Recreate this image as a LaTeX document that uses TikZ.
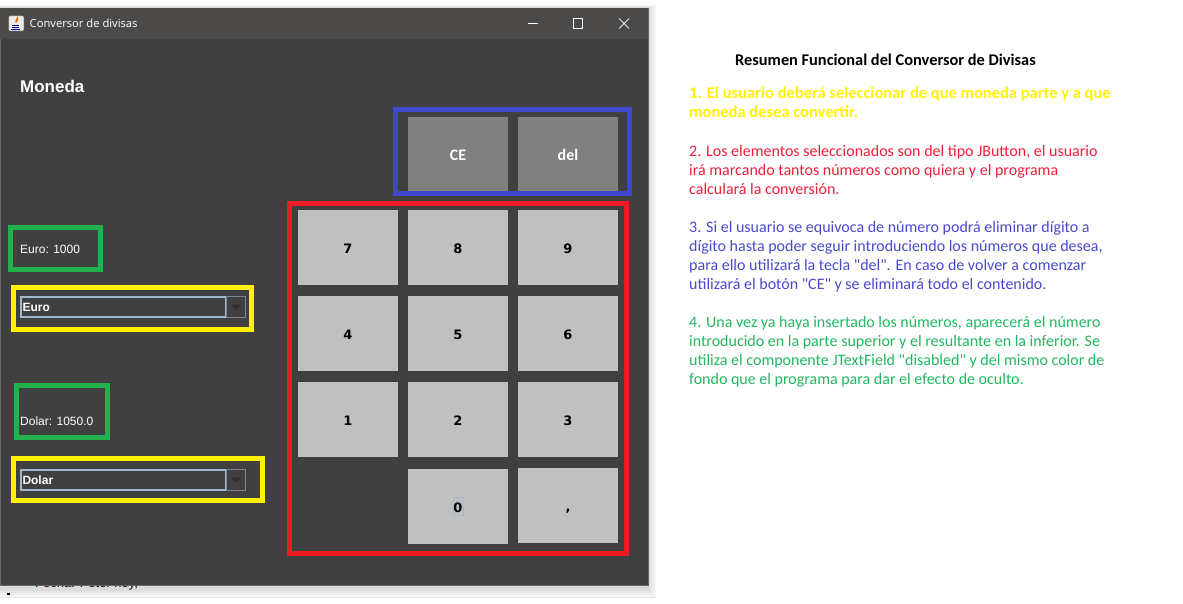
\documentclass[tikz,border=0pt]{standalone}
\usepackage{fontspec}
\setmainfont[Ligatures=TeXOff]{Carlito}
\newfontfamily\titlefont{Open Sans}
\newfontfamily\labelfont{Liberation Sans}
\newfontfamily\keyfont{DejaVu Sans}
\usetikzlibrary{positioning}
\definecolor{panelgrey}{HTML}{404040}
\definecolor{bargrey}{HTML}{4B4A48}
\definecolor{keygrey}{HTML}{C0C0C0}
\definecolor{topkeygrey}{HTML}{808080}
\definecolor{fieldblue}{HTML}{A3B8CC}
\definecolor{arrowgrey}{HTML}{2E2E2E}
\definecolor{markgreen}{HTML}{22B14C}
\definecolor{markyellow}{HTML}{FFF200}
\definecolor{markred}{HTML}{ED1C24}
\definecolor{markblue}{HTML}{3F48CC}
\definecolor{notered}{HTML}{F0203A}
\definecolor{noteblue}{HTML}{4A4AD0}
\definecolor{notegreen}{HTML}{22B860}

\begin{document}
\begin{tikzpicture}[
    x=1pt, y=-1pt,
    numkey/.style={rectangle, fill=keygrey, inner sep=0pt, outer sep=0pt, minimum width=100pt, minimum height=75pt, text height=11.5pt, text depth=0pt, font=\keyfont\bfseries\fontsize{13}{13}\selectfont, text=black},
    topkey/.style={rectangle, fill=topkeygrey, inner sep=0pt, outer sep=0pt, minimum width=100pt, minimum height=74pt, text height=12.5pt, text depth=0pt, font=\bfseries\fontsize{16}{16}\selectfont, text=white},
    markbox/.style={rectangle, draw, line width=5pt, inner sep=0pt, outer sep=0pt, anchor=north west},
    combofield/.style={rectangle, draw=fieldblue, line width=1.2pt, inner xsep=1.5pt, inner ysep=0pt, outer sep=0pt, text width=202pt, align=left, minimum height=20pt, anchor=north west, text=white, font=\labelfont\bfseries\fontsize{12}{12}\selectfont},
    combobtn/.style={rectangle, draw=fieldblue!60!panelgrey, line width=.8pt, inner sep=0pt, outer sep=0pt, minimum width=19pt, minimum height=21pt, anchor=west},
    valuelabel/.style={anchor=west, inner sep=0pt, text=white, font=\labelfont\fontsize{12}{12}\selectfont},
    noteblock/.style={anchor=north west, inner sep=0pt, align=left, font=\fontsize{16}{19}\selectfont}
]
\useasboundingbox (0,0) rectangle (1183,604);
\fill[white] (0,0) rectangle (1183,604);

% Window shadow
\foreach \pad/\tone in {0/4, 2/7, 4/10, 6/14} {
   \fill[black!\tone] (-4,5+\pad*.4) rectangle (656-\pad,597-\pad);
}
\draw[black!10, line width=.6pt] (0,597) -- (656,597);

% Text left behind the window
\node[anchor=base west, inner sep=0pt, text=black!80!red, font=\labelfont\fontsize{13}{13}\selectfont] (behind) at (35,587.5) {Fecha: Peter hoy,};
\fill[black] (7,592.5) rectangle (10,594.5);

% Window
\node[rectangle, fill=panelgrey, draw=black!60, line width=.6pt, inner sep=0pt, outer sep=0pt, anchor=north west, minimum width=648pt, minimum height=577pt] (window) at (0,8) {};
\node[rectangle, fill=bargrey, inner sep=0pt, outer sep=0pt, anchor=north west, minimum width=648pt, minimum height=31pt] (titlebar) at (0,8) {};
\node[rectangle, rounded corners=1pt, fill=black!8, draw=black!45, line width=.5pt, inner sep=0pt, minimum size=15pt, anchor=west] (appicon) at (8.5,23.5) {};
\fill[orange!90!black] (appicon.center) ++(0.5,-1) .. controls ++(3,-2) and ++(-1,-3) .. ++(1,-6) .. controls ++(-2,2) and ++(-3,2) .. ++(-1,6);
\draw[blue!50!black, line width=.8pt] (appicon.center) ++(-4,2) -- ++(7,0) ++(-7,2) -- ++(7,0) ++(-8,2) -- ++(9,0);
\node[anchor=west, inner sep=0pt, text=white, font=\titlefont\fontsize{11.2}{12}\selectfont] (wintitle) at (29.5,23.5) {Conversor de divisas};
\coordinate (minbtn) at (533,23.5);
\coordinate (maxbtn) at (578,23.5);
\coordinate (closebtn) at (624,23.5);
\draw[white, line width=.8pt] (minbtn) ++(-5,0) -- ++(10,0);
\draw[white, line width=.9pt] (maxbtn) ++(-4.7,-4.7) rectangle ++(9.4,9.4);
\draw[white, line width=.7pt] (closebtn) ++(-5,-5) -- ++(10,10) ++(-10,0) -- ++(10,-10);
\node[anchor=west, inner sep=0pt, text=white, font=\labelfont\bfseries\fontsize{17}{17}\selectfont] (moneda) at (20,86) {Moneda};

% Top keys
\node[topkey, anchor=north west] (keyce) at (408,117) {CE};
\node[topkey, right=10pt of keyce] (keydel) {del};

% Number keys
\node[numkey, anchor=north west] (key7) at (298,210) {7};
\node[numkey, right=10pt of key7] (key8) {8};
\node[numkey, right=10pt of key8] (key9) {9};
\node[numkey, below=11pt of key7] (key4) {4};
\node[numkey, right=10pt of key4] (key5) {5};
\node[numkey, right=10pt of key5] (key6) {6};
\node[numkey, below=11pt of key4] (key1) {1};
\node[numkey, right=10pt of key1] (key2) {2};
\node[numkey, right=10pt of key2] (key3) {3};
\node[numkey, below=12pt of key2] (key0) {0};
\node[numkey, below=11pt of key3] (keycomma) {,};
\draw[fieldblue, line width=.5pt] (key0.center) ++(-5,-9) rectangle ++(10,18);

% Labels and combos
\node[valuelabel] (eurolabel) at (20,249) {Euro: 1000};
\node[valuelabel] (dolarlabel) at (20,421) {Dolar: 1050.0};
\foreach \name/\txt/\ypos in {euro/Euro/297, dolar/Dolar/470} {
   \node[combofield] (\name field) at (21,\ypos) {\txt};
   \node[combobtn] (\name btn) at (\name field.east) {};
   \fill[arrowgrey] (\name btn.center) ++(-5,-2.5) -- ++(10,0) -- ++(-5,5) -- cycle;
}

% Marks
\node[markbox, draw=markblue, minimum width=234pt, minimum height=83.5pt] (markkeys) at (395.5,109.8) {};
\node[markbox, draw=markred, minimum width=337pt, minimum height=350pt] (marknums) at (289.5,203.5) {};
\node[markbox, draw=markgreen, minimum width=90pt, minimum height=42pt] (markeuro) at (10.5,227.5) {};
\node[markbox, draw=markgreen, minimum width=91pt, minimum height=52pt] (markdolar) at (16.5,385.5) {};
\node[markbox, draw=markyellow, minimum width=238pt, minimum height=42pt] (markfrom) at (13.5,287.5) {};
\node[markbox, draw=markyellow, minimum width=249pt, minimum height=42pt] (markto) at (13.5,458.5) {};

% Summary text
\node[anchor=west, inner sep=0pt, font=\bfseries\fontsize{16.35}{19}\selectfont] (summary) at (735,60) {Resumen Funcional del Conversor de Divisas};
\node[noteblock, text=markyellow, font=\bfseries\fontsize{16.5}{19}\selectfont] (noteone) at (689,87) {1. El usuario deberá seleccionar de que moneda parte y a que\\moneda desea convertir.};
\node[noteblock, text=notered] (notetwo) at (689,145) {2. Los elementos seleccionados son del tipo JButton, el usuario\\irá marcando tantos números como quiera y el programa\\calculará la conversión.};
\node[noteblock, text=noteblue] (notethree) at (689,221) {3. Si el usuario se equivoca de número podrá eliminar dígito a\\dígito hasta poder seguir introduciendo los números que desea,\\para ello utilizará la tecla "del". En caso de volver a comenzar\\utilizará el botón "CE" y se eliminará todo el contenido.};
\node[noteblock, text=notegreen] (notefour) at (689,316) {4. Una vez ya haya insertado los números, aparecerá el número\\introducido en la parte superior y el resultante en la inferior. Se\\utiliza el componente JTextField "disabled" y del mismo color de\\fondo que el programa para dar el efecto de oculto.};
\end{tikzpicture}
\end{document}
